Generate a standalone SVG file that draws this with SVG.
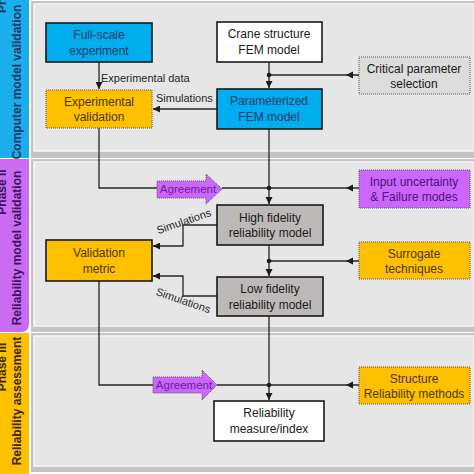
<svg xmlns="http://www.w3.org/2000/svg" width="474" height="474" viewBox="0 0 474 474">
<defs>
<style>
text{font-family:"Liberation Sans",Arial,sans-serif;font-size:12px;text-anchor:middle}
.frame{fill:#c4c4c4}
.panel{fill:#e6e6e6;stroke:#f6f6f6;stroke-width:1.5}
.solid{stroke:#1a1a1a;stroke-width:1.6}
.dot{stroke:#555;stroke-width:1;stroke-dasharray:1 1}
.blue{fill:#00adef}
.orange{fill:#ffc000}
.purple{fill:#cc66ff}
.gray{fill:#bdb9b9}
.white{fill:#fff}
.lgray{fill:#dcdcdc}
.tnavy{fill:#1f3864}
.tbrown{fill:#4a3500}
.tpurple{fill:#4b1474}
.tblack{fill:#1a1a1a}
.lbl{font-size:11px;fill:#262626}
.side{font-size:12px;font-weight:bold}
.line{fill:none;stroke:#262626;stroke-width:1.3}
.jd{fill:#1a1a1a}
</style>
<marker id="ah" viewBox="0 0 10 10" refX="10" refY="5" markerWidth="7" markerHeight="7" markerUnits="userSpaceOnUse" orient="auto">
<path d="M0,0 L10,5 L0,10 z" fill="#1a1a1a"/>
</marker>
</defs>
<rect width="474" height="474" fill="#ffffff"/>

<!-- side strips -->
<g id="strip1">
<rect x="0" y="0" width="29" height="158" fill="#1aaeea"/>
<text class="side" fill="#1f3864" transform="translate(6,-8) rotate(-90)">Phase I</text>
<text class="side" fill="#1f3864" transform="translate(21,82) rotate(-90)">Computer model validation</text>
</g>
<g id="strip2">
<path d="M0,159 H29 V324 Q29,331 22,332 H0 Z" fill="#c96cf2"/>
<text class="side" fill="#3d1260" transform="translate(6,192) rotate(-90)">Phase II</text>
<text class="side" fill="#3d1260" transform="translate(21,248) rotate(-90)">Reliability model validation</text>
</g>
<g id="strip3">
<rect x="0" y="333" width="29" height="141" fill="#ffc000"/>
<text class="side" fill="#3a2800" transform="translate(6,367) rotate(-90)">Phase III</text>
<text class="side" fill="#3a2800" transform="translate(21,401) rotate(-90)">Reliability assessment</text>
</g>

<!-- panels -->
<g id="panels">
<rect class="frame" x="31" y="1" width="443" height="157"/>
<rect class="panel" x="34" y="4" width="440" height="147"/>
<rect class="frame" x="31" y="159" width="443" height="173"/>
<rect class="panel" x="34" y="162" width="440" height="164"/>
<rect class="frame" x="31" y="333" width="443" height="139"/>
<rect class="panel" x="34" y="336" width="440" height="130"/>
</g>

<!-- connectors -->
<g id="connectors">
<line class="line" x1="99" y1="62" x2="99" y2="89" marker-end="url(#ah)"/>
<text class="lbl" x="101" y="82" style="text-anchor:start">Experimental data</text>
<line class="line" x1="217" y1="109" x2="153" y2="109" marker-end="url(#ah)"/>
<text class="lbl" x="156" y="102" style="text-anchor:start">Simulations</text>
<line class="line" x1="269" y1="62" x2="269" y2="88" marker-end="url(#ah)"/>
<line class="line" x1="359" y1="75" x2="269" y2="75"/>
<path class="jd" d="M346,75 L353,71.5 L353,78.5 Z"/>
<circle class="jd" cx="269" cy="75" r="2.3"/>
<line class="line" x1="269" y1="129" x2="269" y2="204" marker-end="url(#ah)"/>
<polyline class="line" points="99,128 99,188 157,188"/>
<line class="line" x1="222" y1="188" x2="269" y2="188"/>
<line class="line" x1="359" y1="188" x2="269" y2="188"/>
<path class="jd" d="M346,188 L353,184.5 L353,191.5 Z"/>
<circle class="jd" cx="269" cy="188" r="2.3"/>
<line class="line" x1="269" y1="245" x2="269" y2="276" marker-end="url(#ah)"/>
<line class="line" x1="359" y1="261" x2="269" y2="261"/>
<path class="jd" d="M346,261 L353,257.5 L353,264.5 Z"/>
<circle class="jd" cx="269" cy="261" r="2.3"/>
<polyline class="line" points="217,225 183,225 183,246 153,246" marker-end="url(#ah)"/>
<text class="lbl" transform="translate(185,225) rotate(-19)">Simulations</text>
<polyline class="line" points="217,296 183,296 183,276 153,276" marker-end="url(#ah)"/>
<text class="lbl" transform="translate(182,304) rotate(19)">Simulations</text>
<line class="line" x1="269" y1="316" x2="269" y2="400" marker-end="url(#ah)"/>
<polyline class="line" points="99,281 99,385 153,385"/>
<line class="line" x1="217" y1="385" x2="269" y2="385"/>
<line class="line" x1="359" y1="385" x2="269" y2="385"/>
<path class="jd" d="M346,385 L353,381.5 L353,388.5 Z"/>
<circle class="jd" cx="269" cy="385" r="2.3"/>
</g>

<!-- agreement arrows -->
<g id="agreement1">
<path class="purple dot" d="M157,181 H206 V174 L222,189 L206,204 V198 H157 Z"/>
<text x="188" y="193" style="font-size:11.5px;fill:#6a1f9a">Agreement</text>
</g>
<g id="agreement2">
<path class="purple dot" d="M153,377 H202 V370 L217,385 L202,400 V393 H153 Z"/>
<text x="184" y="389" style="font-size:11.5px;fill:#6a1f9a">Agreement</text>
</g>

<!-- nodes -->
<g id="fullscale">
<rect class="blue solid" x="46" y="23" width="106" height="39"/>
<text class="tnavy" x="99" y="39">Full-scale</text>
<text class="tnavy" x="99" y="55">experiment</text>
</g>
<g id="crane">
<rect class="white solid" x="217" y="22" width="105" height="40"/>
<text class="tblack" x="269" y="38">Crane structure</text>
<text class="tblack" x="269" y="54">FEM model</text>
</g>
<g id="critical">
<rect class="lgray dot" x="359" y="57" width="111" height="37"/>
<text class="tblack" x="414" y="73">Critical parameter</text>
<text class="tblack" x="414" y="88">selection</text>
</g>
<g id="parameterized">
<rect class="blue solid" x="217" y="89" width="105" height="40"/>
<text class="tnavy" x="269" y="105">Parameterized</text>
<text class="tnavy" x="269" y="121">FEM model</text>
</g>
<g id="expvalidation">
<rect class="orange dot" x="46" y="90" width="106" height="38"/>
<text class="tbrown" x="99" y="106">Experimental</text>
<text class="tbrown" x="99" y="121">validation</text>
</g>
<g id="input">
<rect class="purple dot" x="359" y="170" width="111" height="38"/>
<text class="tpurple" x="414" y="186">Input uncertainty</text>
<text class="tpurple" x="414" y="201">&amp; Failure modes</text>
</g>
<g id="highfidelity">
<rect class="gray solid" x="217" y="205" width="106" height="40"/>
<text class="tblack" x="270" y="222">High fidelity</text>
<text class="tblack" x="270" y="237">reliability model</text>
</g>
<g id="surrogate">
<rect class="orange dot" x="359" y="242" width="111" height="37"/>
<text class="tbrown" x="414" y="258">Surrogate</text>
<text class="tbrown" x="414" y="273">techniques</text>
</g>
<g id="validationmetric">
<rect class="orange solid" x="46" y="240" width="106" height="41"/>
<text class="tbrown" x="99" y="257">Validation</text>
<text class="tbrown" x="99" y="273">metric</text>
</g>
<g id="lowfidelity">
<rect class="gray solid" x="217" y="277" width="106" height="39"/>
<text class="tblack" x="270" y="293">Low fidelity</text>
<text class="tblack" x="270" y="309">reliability model</text>
</g>
<g id="structure">
<rect class="orange dot" x="359" y="367" width="111" height="37"/>
<text class="tbrown" x="414" y="383">Structure</text>
<text class="tbrown" x="414" y="398">Reliability methods</text>
</g>
<g id="reliability">
<rect class="white solid" x="214" y="401" width="110" height="40"/>
<text class="tblack" x="269" y="417">Reliability</text>
<text class="tblack" x="269" y="433">measure/index</text>
</g>
</svg>
